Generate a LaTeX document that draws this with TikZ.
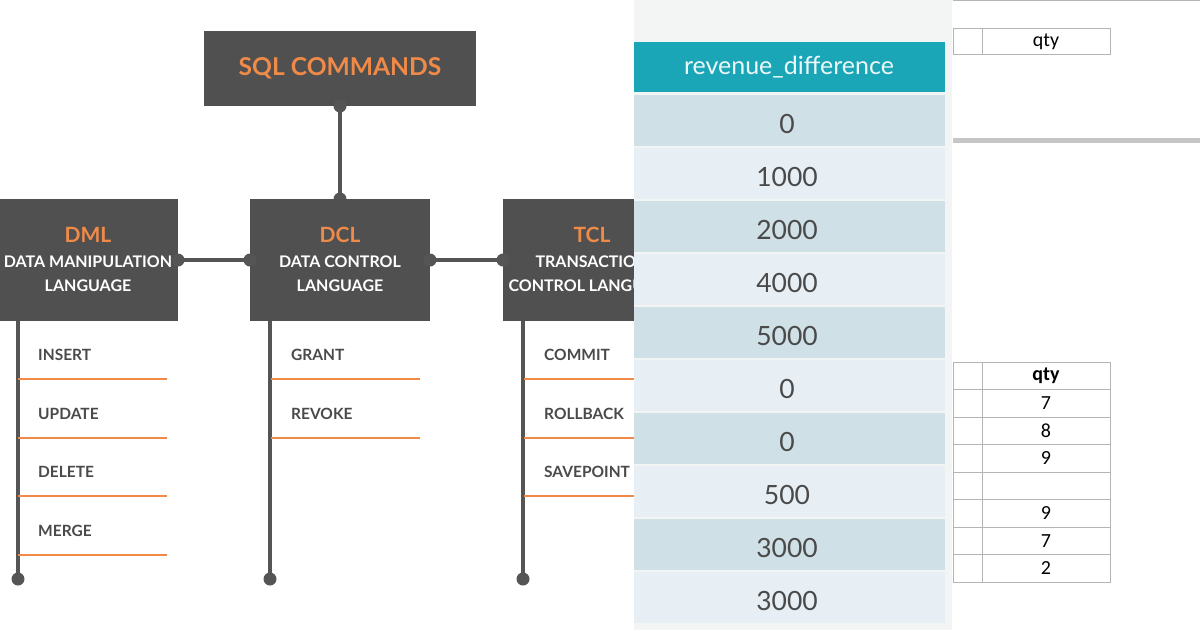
\documentclass[tikz,border=0pt]{standalone}
\usepackage{fontspec}
\setmainfont{Lato}
\newfontfamily\calib{Carlito}
\definecolor{boxgray}{HTML}{505050}
\definecolor{linegray}{HTML}{555555}
\definecolor{orng}{HTML}{F08A48}
\definecolor{teal}{HTML}{1AA6B7}
\definecolor{rowa}{HTML}{CFE1E7}
\definecolor{rowb}{HTML}{E7EFF4}
\definecolor{numgray}{HTML}{4A4A4A}
\definecolor{gridgray}{HTML}{B4B4B4}
\definecolor{panel}{HTML}{F2F5F4}
\tikzset{
 x=1pt,y=-1pt,
 conn/.style={draw=linegray,line width=4.5pt},
 dot/.style={circle,fill=linegray,inner sep=0pt,minimum size=13pt},
 item/.style={anchor=west,inner sep=0pt,font=\bfseries\fontsize{15.5}{17}\selectfont,text=numgray},
 uline/.style={draw=orng,line width=2.2pt},
 hd/.style={font=\bfseries\fontsize{21}{23}\selectfont,text=orng},
 sub/.style={font=\bfseries\fontsize{16}{24}\selectfont,text=white,align=center},
 num/.style={font=\fontsize{26.5}{30}\selectfont,text=numgray},
 cell/.style={draw=gridgray,line width=1pt},
 cnum/.style={font=\calib\fontsize{20}{20}\selectfont}
}
\begin{document}
\begin{tikzpicture}
\useasboundingbox (0,0) rectangle (1200,630);
\fill[white] (0,0) rectangle (1200,630);
% top box
\fill[boxgray] (204,31) rectangle (476,106);
\node[font=\bfseries\fontsize{24.6}{26}\selectfont,text=orng] (sql) at (340,68) {SQL COMMANDS};
\coordinate (st) at (340,106); \coordinate (sb) at (340,199);
\draw[conn] (st) -- (sb);
\node[dot] at (st) {}; \node[dot] at (sb) {};
% second-level boxes
\fill[boxgray] (0,199) rectangle (178,321);
\fill[boxgray] (250,199) rectangle (430,321);
\fill[boxgray] (503,199) rectangle (640,321);
\node[hd] (dml) at (88,235) {DML};
\node[sub] at (88,274) {DATA MANIPULATION\\LANGUAGE};
\node[hd] (dcl) at (340,235) {DCL};
\node[sub] at (340,274) {DATA CONTROL\\LANGUAGE};
\node[hd] (tcl) at (592,235) {TCL};
\node[sub] at (592,274) {TRANSACTION\\CONTROL LANGUAGE};
\coordinate (h1a) at (178,260); \coordinate (h1b) at (250,260);
\coordinate (h2a) at (430,260); \coordinate (h2b) at (503,260);
\draw[conn] (h1a) -- (h1b); \draw[conn] (h2a) -- (h2b);
\foreach \c in {h1a,h1b,h2a,h2b} \node[dot] at (\c) {};
% vertical stems
\foreach \x/\n in {18/a,270/b,523/c}{
 \coordinate (t\n) at (\x,321); \coordinate (b\n) at (\x,579);
 \draw[conn] (t\n) -- (b\n); \node[dot] at (b\n) {};}
% items
\foreach \t/\y in {INSERT/355,UPDATE/414,DELETE/472,MERGE/531}{
 \node[item] at (38,\y) {\t}; \draw[uline] (18,\y+24) -- (167,\y+24);}
\foreach \t/\y in {GRANT/355,REVOKE/414}{
 \node[item] at (291,\y) {\t}; \draw[uline] (271,\y+24) -- (420,\y+24);}
\foreach \t/\y in {COMMIT/355,ROLLBACK/414,SAVEPOINT/472}{
 \node[item] at (544,\y) {\t}; \draw[uline] (524,\y+24) -- (640,\y+24);}
% middle table
\fill[panel] (634,0) rectangle (952,630);
\fill[teal] (634,42) rectangle (945,92);
\node[font=\fontsize{25}{28}\selectfont,text=white!92!teal] (rh) at (789,67) {revenue\_difference};
\foreach \v [count=\i] in {0,1000,2000,4000,5000,0,0,500,3000,3000}{
 \pgfmathsetmacro\yt{95+(\i-1)*53}
 \pgfmathtruncatemacro\odd{mod(\i,2)}
 \ifnum\odd=1 \fill[rowa] (634,\yt) rectangle (945,\yt+51);
 \else \fill[rowb] (634,\yt) rectangle (945,\yt+51); \fi
 \node[num] at (787,\yt+29) {\v};}
% right side
\draw[gridgray,line width=0.8pt] (953,0.5) -- (1200,0.5);
\draw[cell] (953,28) rectangle (982,54); \draw[cell] (982,28) rectangle (1110,54);
\node[cnum] at (1046,42) {qty};
\fill[gray!45] (953,138) rectangle (1200,143);
\foreach \v [count=\i] in {{\bfseries qty},7,8,9,{},9,7,2}{
 \pgfmathsetmacro\yt{362+(\i-1)*27.5}
 \draw[cell] (953,\yt) rectangle (982,\yt+27.5);
 \draw[cell] (982,\yt) rectangle (1110,\yt+27.5);
 \node[cnum] at (1046,\yt+14) {\v};}
\end{tikzpicture}
\end{document}
